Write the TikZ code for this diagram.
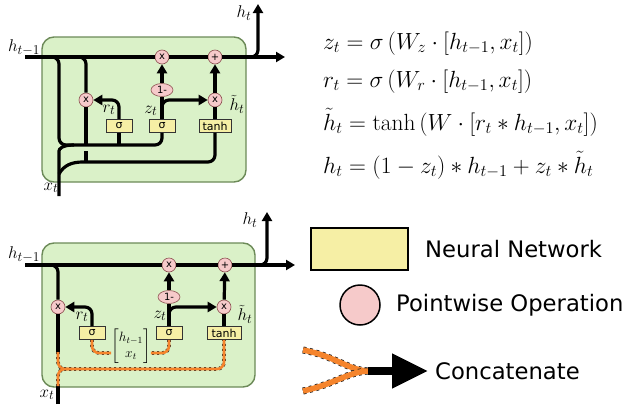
\RequirePackage{fix-cm}
\documentclass[tikz,border=0pt]{standalone}
\usepackage{amsmath}
\usepackage{fontspec}
\newfontfamily\legendsans{DejaVu Sans}
\usetikzlibrary{arrows.meta,shapes.geometric}
\DeclareMathSizes{17}{17}{13.5}{10.5}
\definecolor{cellgreen}{RGB}{218,241,200}
\definecolor{cellborder}{RGB}{108,138,88}
\definecolor{netyellow}{RGB}{246,239,165}
\definecolor{oppink}{RGB}{246,202,202}
\definecolor{opborder}{RGB}{140,80,80}
\definecolor{catorange}{RGB}{245,132,44}
\tikzset{
  cellbox/.style={draw=cellborder, fill=cellgreen, line width=1.4pt, rounded corners=12pt},
  gatebox/.style={draw=black!80, fill=netyellow, line width=0.6pt, minimum width=26pt, minimum height=13pt, inner sep=0pt, font=\legendsans\fontsize{11}{11}\selectfont},
  opnode/.style={circle, draw=opborder, fill=oppink, line width=0.6pt, minimum size=14pt, inner sep=0pt, font=\legendsans\fontsize{10}{10}\selectfont},
  flowline/.style={line width=3.2pt, rounded corners=7pt},
  flowarrow/.style={flowline, -{Triangle[length=9pt,width=10pt]}},
  catline/.style={draw=catorange, line width=2.6pt, rounded corners=7pt, preaction={draw=black!85, line width=3.6pt, dash pattern=on 2pt off 3pt}},
  mathlbl/.style={font=\fontsize{17}{17}\selectfont, inner sep=0pt},
  legendtext/.style={font=\legendsans\fontsize{22.7}{26}\selectfont, anchor=west, inner sep=0pt},
  eqtext/.style={font=\fontsize{23.4}{28}\selectfont, anchor=base west, inner sep=0pt}
}
\begin{document}
\begin{tikzpicture}[x=1pt,y=-1pt]
\useasboundingbox (0,0) rectangle (636,415);
% upper cell
\draw[cellbox] (42,37) rectangle (246,182);
\node[opnode] (mulz) at (162,57) {x};
\node[opnode] (addh) at (215,57) {+};
\node[opnode, ellipse, minimum width=22pt, minimum height=13pt] (onem) at (162,90) {1-};
\node[opnode] (mulr) at (86,100) {x};
\node[opnode] (mulh) at (215,100) {x};
\node[gatebox] (sigr) at (119,126) {σ};
\node[gatebox] (sigz) at (162,126) {σ};
\node[gatebox, minimum width=32pt] (tanh) at (215,126) {tanh};
\coordinate (hin) at (25,57);
\coordinate (hout) at (285,57);
\coordinate (hsplit) at (249,57);
\coordinate (htop) at (258,4);
\coordinate (splitA) at (50,57);
\coordinate (splitB) at (78,57);
\coordinate (busA) at (59,145);
\coordinate (busB) at (90,162);
\coordinate (zsplit) at (162,110);
\coordinate (xin) at (59,196);
\draw[flowarrow] (hin) -- (mulz) -- (addh) -- (hout);
\draw[flowarrow] (hsplit) -| (htop);
\draw[flowline] (splitA) -| (busA) -| (sigz);
\draw[flowline] (sigr) -- (sigr |- busA);
\draw[flowline] (xin) -- (59,158) .. controls (59,149) and (62,145) .. (74,145);
\draw[flowline] (59,174) .. controls (64,165) and (72,162) .. (busB) -| (tanh);
\draw[flowline] (splitB) -| (mulr);
\draw[flowline] (mulr) -- ([yshift=1pt]mulr |- busA);
\draw[flowline] ([yshift=-6pt]mulr |- busA) -- (mulr |- busB);
\draw[flowarrow] (sigr) |- (mulr);
\draw[flowline] (sigz) -- (onem);
\draw[flowarrow] (onem) -- (mulz);
\draw[flowarrow] (zsplit) |- (mulh);
\draw[flowline] (tanh) -- (mulh);
\draw[flowarrow] (mulh) -- (addh);
\node[mathlbl] (hprev) at (24,48) {$h_{t-1}$};
\node[mathlbl] (hnext) at (244,13) {$h_t$};
\node[mathlbl] (xlbl) at (51,188) {$x_t$};
\node[mathlbl] (rlbl) at (109,110) {$r_t$};
\node[mathlbl] (zlbl) at (151,111) {$z_t$};
\node[mathlbl] (hlbl) at (237,104) {$\tilde{h}_t$};
% equations
\node[eqtext] (eqz) at (323,49) {$z_t = \sigma\left(W_z\cdot[h_{t-1},x_t]\right)$};
\node[eqtext] (eqr) at (323,87) {$r_t = \sigma\left(W_r\cdot[h_{t-1},x_t]\right)$};
\node[eqtext] (eqh) at (323,130) {$\tilde{h}_t = \tanh\left(W\cdot[r_t*h_{t-1},x_t]\right)$};
\node[eqtext] (eqo) at (323,173) {$h_t = (1-z_t)*h_{t-1}+z_t*\tilde{h}_t$};
% lower cell
\draw[cellbox] (42,243) rectangle (255,387);
\node[opnode] (mulz2) at (169,265) {x};
\node[opnode] (addh2) at (225,265) {+};
\node[opnode, ellipse, minimum width=22pt, minimum height=13pt] (onem2) at (169,297) {1-};
\node[opnode] (mulr2) at (58,307) {x};
\node[opnode] (mulh2) at (224,307) {x};
\node[gatebox] (sigr2) at (92,333) {σ};
\node[gatebox] (sigz2) at (169,333) {σ};
\node[gatebox, minimum width=34pt] (tanh2) at (224,333) {tanh};
\node[mathlbl, font=\fontsize{13.5}{16}\selectfont] (cat) at (131,346) {$\begin{bmatrix}h_{t-1}\\x_t\end{bmatrix}$};
\coordinate (hin2) at (25,265);
\coordinate (hout2) at (295,265);
\coordinate (hsplit2) at (258,265);
\coordinate (htop2) at (267,212);
\coordinate (splitA2) at (50,265);
\coordinate (zsplit2) at (169,316);
\coordinate (rdown) at (58,352);
\coordinate (busC) at (58,369);
\coordinate (xup) at (58,386);
\coordinate (xin2) at (58,404);
\draw[flowarrow] (hin2) -- (mulz2) -- (addh2) -- (hout2);
\draw[flowarrow] (hsplit2) -| (htop2);
\draw[flowline] (splitA2) -| (mulr2);
\draw[flowline] (mulr2) -- (rdown);
\draw[flowline] (xin2) -- (xup);
\draw[catline] (rdown) -- (busC) -| (tanh2);
\draw[catline] (xup) -- (busC) -- (72,369);
\draw[catline] (sigr2) |- ([yshift=-7pt]cat.west);
\draw[catline] (sigz2) |- ([yshift=-7pt]cat.east);
\draw[flowarrow] (sigr2) |- (mulr2);
\draw[flowline] (sigz2) -- (onem2);
\draw[flowarrow] (onem2) -- (mulz2);
\draw[flowarrow] (zsplit2) |- (mulh2);
\draw[flowline] (tanh2) -- (mulh2);
\draw[flowarrow] (mulh2) -- (addh2);
\node[mathlbl] (hprev2) at (24,255) {$h_{t-1}$};
\node[mathlbl] (hnext2) at (250,220) {$h_t$};
\node[mathlbl] (xlbl2) at (47,395) {$x_t$};
\node[mathlbl] (rlbl2) at (82,317) {$r_t$};
\node[mathlbl] (zlbl2) at (160,316) {$z_t$};
\node[mathlbl] (hlbl2) at (245,314) {$\tilde{h}_t$};
% legend
\node[draw=black, line width=2pt, fill=netyellow, minimum width=97pt, minimum height=42pt] (legnet) at (359.5,249) {};
\node[legendtext] (legnettext) at (425,249) {Neural Network};
\node[circle, draw=black, line width=1.5pt, fill=oppink, minimum size=40pt] (legop) at (360,305) {};
\node[legendtext] (legoptext) at (396,305) {Pointwise Operation};
\coordinate (legcatA) at (303,350);
\coordinate (legcatB) at (303,391);
\coordinate (legcatM) at (368,371);
\coordinate (legcatE) at (428,371);
\draw[catline, line width=5.5pt, preaction={draw=black!85, line width=7pt, dash pattern=on 3pt off 3.5pt}] (legcatA) .. controls (335,356) and (348,370) .. (legcatM);
\draw[catline, line width=5.5pt, preaction={draw=black!85, line width=7pt, dash pattern=on 3pt off 3.5pt}] (legcatB) .. controls (335,384) and (348,372) .. (legcatM);
\draw[line width=8pt, -{Triangle[length=36pt,width=33pt]}] (legcatM) -- (legcatE);
\node[legendtext] (legcattext) at (435,371) {Concatenate};
\end{tikzpicture}
\end{document}
